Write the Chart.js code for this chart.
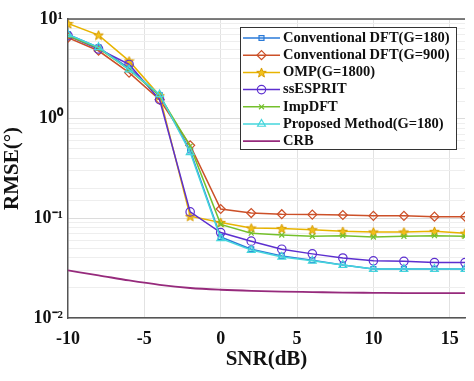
<!DOCTYPE html>
<html>
<head>
<meta charset="utf-8">
<script src="https://cdn.jsdelivr.net/npm/chart.js@4.4.1/dist/chart.umd.min.js"></script>
<style>
  html, body { margin: 0; padding: 0; background: #fff; }
  #wrap { width: 474px; height: 381px; position: relative; }
</style>
</head>
<body>
<div id="wrap"><canvas id="rmseChart"></canvas></div>
<script>
// ===============================
// DATA
// ===============================
const snr = [-10, -8, -6, -4, -2, 0, 2, 4, 6, 8, 10, 12, 14, 16];

const seriesNames = [
  "Conventional DFT(G=180)",
  "Conventional DFT(G=900)",
  "OMP(G=1800)",
  "ssESPRIT",
  "ImpDFT",
  "Proposed Method(G=180)",
  "CRB"
];

const dft180   = [7.0, 5.2, 3.2, 1.72, 0.48, 0.065, 0.049, 0.042, 0.038, 0.034, 0.031, 0.031, 0.031, 0.031];
const dft900   = [6.5, 4.8, 2.9, 1.55, 0.54, 0.124, 0.113, 0.110, 0.109, 0.108, 0.106, 0.106, 0.104, 0.104];
const omp      = [9.0, 6.9, 3.8, 1.70, 0.105, 0.091, 0.080, 0.079, 0.077, 0.074, 0.073, 0.073, 0.074, 0.071];
const ssesprit = [6.8, 5.0, 3.5, 1.55, 0.116, 0.072, 0.059, 0.049, 0.044, 0.040, 0.0375, 0.037, 0.036, 0.036];
const impdft   = [6.8, 5.1, 3.1, 1.70, 0.53, 0.087, 0.071, 0.068, 0.066, 0.067, 0.065, 0.066, 0.067, 0.066];
const proposed = [7.0, 5.2, 3.1, 1.75, 0.46, 0.063, 0.048, 0.041, 0.0375, 0.034, 0.031, 0.031, 0.031, 0.031];
const crb      = [0.030, 0.0268, 0.0238, 0.0215, 0.0200, 0.0192, 0.0187, 0.0184, 0.0182, 0.0180, 0.0179, 0.0178, 0.0178, 0.0178];

const yTicks = [0.01, 0.1, 1, 10];
const yTickText = ["10\u207B\u00B2", "10\u207B\u00B9", "10\u2070", "10\u00B9"];
const xTicks = [-10, -5, 0, 5, 10, 15];

// ===============================
// STYLE HELPERS
// ===============================
const serif = "'Liberation Serif', 'Times New Roman', serif";

function makeStar(size, fill, stroke) {
  const c = document.createElement("canvas");
  c.width = size; c.height = size;
  const g = c.getContext("2d");
  const cx = size / 2, cy = size / 2 + 0.5, R = size / 2 - 0.5, r = R * 0.42;
  g.beginPath();
  for (let i = 0; i < 10; i++) {
    const a = -Math.PI / 2 + i * Math.PI / 5;
    const rad = i % 2 ? r : R;
    g.lineTo(cx + rad * Math.cos(a), cy + rad * Math.sin(a));
  }
  g.closePath();
  g.fillStyle = fill; g.fill();
  g.strokeStyle = stroke; g.lineWidth = 1; g.stroke();
  return c;
}

const starImg = makeStar(11, "#f3c21b", "#d79a00");

function serie(i, data, color, style, radius) {
  return {
    label: seriesNames[i],
    data: snr.map((x, k) => ({ x: x, y: data[k] })),
    borderColor: color,
    backgroundColor: color,
    borderWidth: 1.5,
    pointStyle: style,
    pointRadius: radius,
    pointBorderWidth: 1.2,
    pointBorderColor: color,
    pointBackgroundColor: "rgba(0,0,0,0)",
    order: 6 - i
  };
}

const datasets = [
  serie(0, dft180, "#2a7ad8", "rect", 3.5),
  serie(1, dft900, "#cc5028", "rectRot", 4.5),
  serie(2, omp, "#e8b400", starImg, 5),
  serie(3, ssesprit, "#5c2fcf", "circle", 4.2),
  serie(4, impdft, "#74c02c", "crossRot", 3.5),
  serie(5, proposed, "#45d6dc", "triangle", 4.5),
  serie(6, crb, "#962a7c", "circle", 0)
];
datasets[6].cubicInterpolationMode = "monotone";
datasets[6].borderWidth = 1.8;

// ===============================
// PLUGINS: top border + boxed legend
// ===============================
const frameAndLegend = {
  id: "frameAndLegend",
  afterDraw(chart) {
    const ctx = chart.ctx, area = chart.chartArea;
    ctx.save();
    ctx.strokeStyle = "#555";
    ctx.lineWidth = 1.5;
    ctx.beginPath();
    ctx.moveTo(area.left, area.top);
    ctx.lineTo(area.right, area.top);
    ctx.stroke();

    const w = 216, h = 122;
    const x0 = area.right - 9 - w, y0 = area.top + 8;
    ctx.fillStyle = "#fff";
    ctx.fillRect(x0, y0, w, h);
    ctx.strokeStyle = "#333";
    ctx.lineWidth = 1;
    ctx.strokeRect(x0 + 0.5, y0 + 0.5, w, h);

    ctx.font = "bold 14.5px " + serif;
    ctx.textBaseline = "middle";
    ctx.textAlign = "left";
    chart.data.datasets.forEach((ds, i) => {
      const y = y0 + 11 + i * 17.2;
      ctx.strokeStyle = ds.borderColor;
      ctx.lineWidth = ds.borderWidth;
      ctx.beginPath();
      ctx.moveTo(x0 + 3, y);
      ctx.lineTo(x0 + 40, y);
      ctx.stroke();
      if (ds.pointRadius > 0 && Chart.helpers && Chart.helpers.drawPoint) {
        ctx.fillStyle = ds.pointBackgroundColor;
        ctx.strokeStyle = ds.pointBorderColor;
        ctx.lineWidth = ds.pointBorderWidth;
        Chart.helpers.drawPoint(ctx, {
          pointStyle: ds.pointStyle,
          radius: ds.pointRadius,
          borderWidth: ds.pointBorderWidth,
          rotation: 0
        }, x0 + 21.5, y);
      }
      ctx.fillStyle = "#111";
      ctx.fillText(ds.label, x0 + 43, y);
    });
    ctx.restore();
  }
};

// ===============================
// CHART
// ===============================
const ctx = document.getElementById("rmseChart");

new Chart(ctx, {
  type: "line",
  data: { datasets: datasets },
  plugins: [frameAndLegend],
  options: {
    responsive: true,
    maintainAspectRatio: false,
    animation: false,
    layout: { padding: { top: 19, right: 9, left: 0, bottom: 0 } },
    plugins: {
      legend: { display: false },
      tooltip: { enabled: false }
    },
    scales: {
      x: {
        type: "linear",
        min: -10,
        max: 16,
        afterBuildTicks: (scale) => {
          scale.ticks = xTicks.map(v => ({ value: v }));
        },
        afterFit: (scale) => { scale.height = 63; },
        ticks: {
          color: "#111",
          padding: 11,
          font: { family: serif, size: 18, weight: "bold" },
          maxRotation: 0
        },
        grid: {
          drawTicks: false,
          color: (c) => (c.tick && c.tick.value === -10 ? "rgba(0,0,0,0)" : "#e2e2e2"),
          lineWidth: 1
        },
        border: { color: "#555", width: 1.5 },
        title: {
          display: true,
          text: "SNR(dB)",
          color: "#111",
          font: { family: serif, size: 21, weight: "bold" },
          padding: { top: 0, bottom: 9 }
        }
      },
      y: {
        type: "logarithmic",
        min: 0.01,
        max: 10,
        afterFit: (scale) => { scale.width = 68; },
        ticks: {
          color: "#111",
          padding: 5,
          font: { family: serif, size: 18, weight: "bold" },
          autoSkip: false,
          callback: (v) => {
            const k = yTicks.findIndex(t => Math.abs(t - v) / t < 1e-6);
            return k >= 0 ? yTickText[k] : "";
          }
        },
        grid: {
          drawTicks: false,
          color: (c) => {
            if (!c.tick) return "#ececec";
            const isMajor = yTicks.some(t => Math.abs(t - c.tick.value) / t < 1e-6);
            return isMajor ? "#dcdcdc" : "#eeeeee";
          },
          lineWidth: 1
        },
        border: { color: "#555", width: 1.5 },
        title: {
          display: true,
          text: "RMSE(\u00B0)",
          color: "#111",
          font: { family: serif, size: 21, weight: "bold" },
          padding: { top: 0, bottom: 4 }
        }
      }
    }
  }
});
</script>
</body>
</html>
